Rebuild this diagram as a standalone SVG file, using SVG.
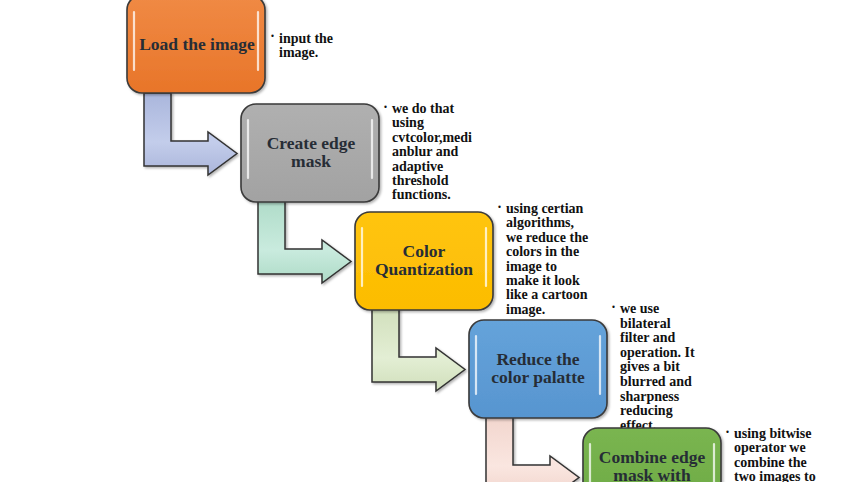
<svg xmlns="http://www.w3.org/2000/svg" width="858" height="482" viewBox="0 0 858 482">
<defs>
<style>
.box{stroke:#3a3a3a;stroke-width:1.6}
.arr{stroke:#333;stroke-width:1.5;stroke-linejoin:miter}
.hl{fill:none;stroke:#fff;stroke-width:2.2;stroke-linecap:round;opacity:0.75}
.bt{font-family:"Liberation Serif",serif;font-weight:bold;font-size:17.5px;fill:#262d36;text-anchor:middle}
.st{font-family:"Liberation Serif",serif;font-weight:bold;font-size:14px;fill:#111}
.bu{font-family:"Liberation Sans",sans-serif;font-size:8.5px;fill:#111}
</style>
<linearGradient id="gO" x1="0" y1="0" x2="0" y2="1"><stop offset="0" stop-color="#f08a45"/><stop offset="1" stop-color="#e87529"/></linearGradient>
<linearGradient id="gG" x1="0" y1="0" x2="0" y2="1"><stop offset="0" stop-color="#b0b0b0"/><stop offset="1" stop-color="#a2a2a2"/></linearGradient>
<linearGradient id="gY" x1="0" y1="0" x2="0" y2="1"><stop offset="0" stop-color="#ffc511"/><stop offset="1" stop-color="#fcbc00"/></linearGradient>
<linearGradient id="gB" x1="0" y1="0" x2="0" y2="1"><stop offset="0" stop-color="#65a3da"/><stop offset="1" stop-color="#5795d0"/></linearGradient>
<linearGradient id="gN" x1="0" y1="0" x2="0" y2="1"><stop offset="0" stop-color="#7ab550"/><stop offset="1" stop-color="#6ba843"/></linearGradient>
<linearGradient id="a1" x1="0" y1="0" x2="0" y2="1"><stop offset="0" stop-color="#aab6dc"/><stop offset="0.6" stop-color="#c3cdeb"/><stop offset="1" stop-color="#aab5da"/></linearGradient>
<linearGradient id="a2" x1="0" y1="0" x2="0" y2="1"><stop offset="0" stop-color="#b0dcc9"/><stop offset="0.6" stop-color="#c9ebde"/><stop offset="1" stop-color="#addac6"/></linearGradient>
<linearGradient id="a3" x1="0" y1="0" x2="0" y2="1"><stop offset="0" stop-color="#d2e0bd"/><stop offset="0.6" stop-color="#e3eed4"/><stop offset="1" stop-color="#d0dfbb"/></linearGradient>
<linearGradient id="a4" x1="0" y1="0" x2="0" y2="1"><stop offset="0" stop-color="#f2d6ce"/><stop offset="0.6" stop-color="#fae6e0"/><stop offset="1" stop-color="#f0d3ca"/></linearGradient>
<filter id="sh" x="-10%" y="-10%" width="125%" height="125%"><feDropShadow dx="1.5" dy="1.5" stdDeviation="1.2" flood-color="#000" flood-opacity="0.3"/></filter>
<path id="arrow" d="M0,0 L27,0 L27,48 L64,48 L64,39 L93,60.5 L64,82 L64,73 L0,73 Z"/>
</defs>
<rect width="858" height="482" fill="#fff"/>
<g id="connectors">
<use href="#arrow" x="144" y="93" fill="url(#a1)" class="arr" filter="url(#sh)"/>
<use href="#arrow" x="258" y="201" fill="url(#a2)" class="arr" filter="url(#sh)"/>
<use href="#arrow" x="372" y="309" fill="url(#a3)" class="arr" filter="url(#sh)"/>
<use href="#arrow" x="486" y="417" fill="url(#a4)" class="arr" filter="url(#sh)"/>
</g>
<g id="note1">
<text class="bu" x="271" y="39">•</text>
<text class="st" x="279" y="43">input the<tspan x="279" dy="14.4">image.</tspan></text>
</g>
<g id="note2">
<text class="bu" x="384" y="110">•</text>
<text class="st" x="392" y="113">we do that<tspan x="392" dy="14.4">using</tspan><tspan x="392" dy="14.4">cvtcolor,medi</tspan><tspan x="392" dy="14.4">anblur and</tspan><tspan x="392" dy="14.4">adaptive</tspan><tspan x="392" dy="14.4">threshold</tspan><tspan x="392" dy="14.4">functions.</tspan></text>
</g>
<g id="note3">
<text class="bu" x="498" y="210">•</text>
<text class="st" x="506" y="213">using certian<tspan x="506" dy="14.4">algorithms,</tspan><tspan x="506" dy="14.4">we reduce the</tspan><tspan x="506" dy="14.4">colors in the</tspan><tspan x="506" dy="14.4">image to</tspan><tspan x="506" dy="14.4">make it look</tspan><tspan x="506" dy="14.4">like a cartoon</tspan><tspan x="506" dy="14.4">image.</tspan></text>
</g>
<g id="note4">
<text class="bu" x="612" y="310">•</text>
<text class="st" x="620" y="313">we use<tspan x="620" dy="14.6">bilateral</tspan><tspan x="620" dy="14.6">filter and</tspan><tspan x="620" dy="14.6">operation. It</tspan><tspan x="620" dy="14.6">gives a bit</tspan><tspan x="620" dy="14.6">blurred and</tspan><tspan x="620" dy="14.6">sharpness</tspan><tspan x="620" dy="14.6">reducing</tspan><tspan x="620" dy="14.6">effect.</tspan></text>
</g>
<g id="note5">
<text class="bu" x="726" y="435">•</text>
<text class="st" x="734" y="438">using bitwise<tspan x="734" dy="14.4">operator we</tspan><tspan x="734" dy="14.4">combine the</tspan><tspan x="734" dy="14.4">two images to</tspan></text>
</g>
<g id="node1">
<rect class="box" x="127" y="-5" width="138" height="98" rx="15" fill="url(#gO)" filter="url(#sh)"/>
<path class="hl" d="M134,12 V70 M258,12 V70"/>
<text class="bt" x="197" y="50">Load the image</text>
</g>
<g id="node2">
<rect class="box" x="241" y="104" width="138" height="98" rx="15" fill="url(#gG)" filter="url(#sh)"/>
<path class="hl" d="M248,120 V178 M372,120 V178"/>
<text class="bt" x="311" y="149">Create edge<tspan x="311" dy="18">mask</tspan></text>
</g>
<g id="node3">
<rect class="box" x="355" y="212" width="138" height="98" rx="15" fill="url(#gY)" filter="url(#sh)"/>
<path class="hl" d="M362,228 V286 M486,228 V286"/>
<text class="bt" x="424" y="257">Color<tspan x="424" dy="17.5">Quantization</tspan></text>
</g>
<g id="node4">
<rect class="box" x="469" y="320" width="138" height="98" rx="15" fill="url(#gB)" filter="url(#sh)"/>
<path class="hl" d="M476,336 V394 M600,336 V394"/>
<text class="bt" x="538" y="365">Reduce the<tspan x="538" dy="17.5">color palatte</tspan></text>
</g>
<g id="node5">
<rect class="box" x="583" y="428" width="138" height="98" rx="15" fill="url(#gN)" filter="url(#sh)"/>
<path class="hl" d="M590,444 V502 M714,444 V502"/>
<text class="bt" x="652" y="463">Combine edge<tspan x="652" dy="17.5">mask with</tspan></text>
</g>
</svg>
